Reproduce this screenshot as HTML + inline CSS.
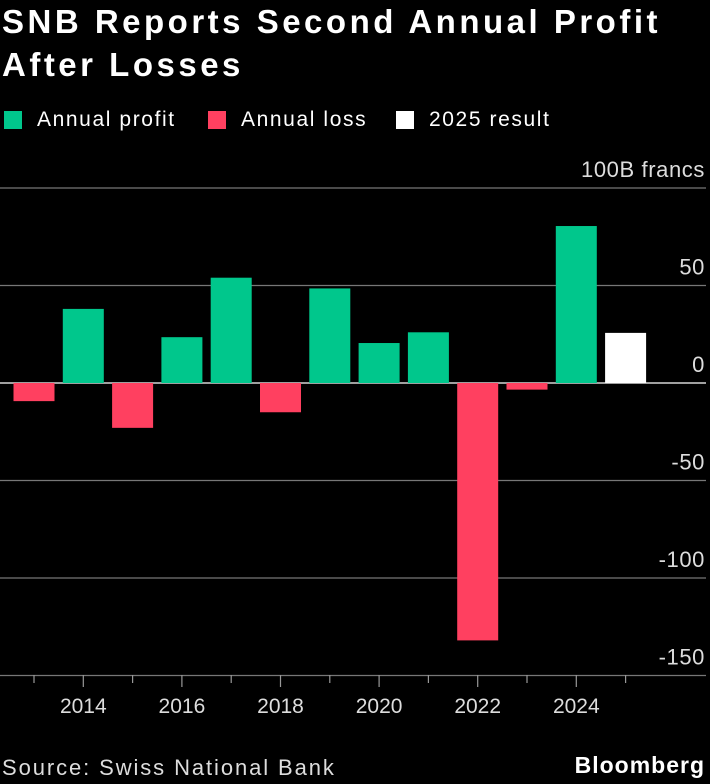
<!DOCTYPE html>
<html><head><meta charset="utf-8"><style>
body{margin:0;background:#000;width:710px;height:784px;overflow:hidden;font-family:"Liberation Sans",sans-serif;color:#fff}
#title{position:absolute;left:2px;top:0;font-size:33px;font-weight:bold;line-height:43px;letter-spacing:3.5px}
.leg{position:absolute;top:108px;font-size:21px;display:flex;align-items:center;letter-spacing:1.6px}
.sw{width:18px;height:18px;margin-right:15px}
#src{position:absolute;left:2px;top:755px;font-size:22px;color:#ddd;letter-spacing:1.9px}
#bb{position:absolute;right:5px;top:752px;font-size:23px;font-weight:bold;letter-spacing:1px}
svg{position:absolute;left:0;top:0}
</style></head><body>
<div id="title">SNB Reports Second Annual Profit<br>After Losses</div>
<div class="leg" style="left:4px"><div class="sw" style="background:#00c78c"></div>Annual profit</div>
<div class="leg" style="left:208px"><div class="sw" style="background:#ff4060"></div>Annual loss</div>
<div class="leg" style="left:396px"><div class="sw" style="background:#fff"></div>2025 result</div>
<svg id="chart" width="710" height="784"></svg>
<div id="src">Source: Swiss National Bank</div>
<div id="bb">Bloomberg</div>
<script>
const years=[2013,2014,2015,2016,2017,2018,2019,2020,2021,2022,2023,2024,2025];
const values=[-9.3,38,-23,23.5,54,-15,48.5,20.5,26,-132,-3.4,80.5,25.7];
const yTicks=[100,50,0,-50,-100,-150];
const yTickLabels=["100B francs","50","0","-50","-100","-150"];
const xLabels=[2014,2016,2018,2020,2022,2024];
const svg=document.getElementById('chart');
const NS='http://www.w3.org/2000/svg';
const y=v=>383-v*1.95;
const x=yr=>34+(yr-2013)*49.3;
function mk(t,a){const e=document.createElementNS(NS,t);for(const k in a)e.setAttribute(k,a[k]);svg.appendChild(e);return e;}
yTicks.forEach((t,i)=>{
 const l=mk('line',{x1:0,x2:706,y1:y(t),y2:y(t),stroke:t===0?'#fff':'#777','stroke-width':1.2});
 
 
 const tx=mk('text',{x:705,y:y(t)-11,'text-anchor':'end','font-size':22,fill:'#ddd','font-family':'Liberation Sans','letter-spacing':'0.6'});
 tx.textContent=yTickLabels[i];
 
 
});
years.forEach((yr,i)=>{
 const v=values[i];
 const col=yr===2025?'#fff':(v>=0?'#00c78c':'#ff4060');
 const r=mk('rect',{x:x(yr)-20.5,width:41,y:Math.min(y(v),y(0)),height:Math.abs(y(v)-y(0)),fill:col});
 
 
 const tk=mk('line',{x1:x(yr),x2:x(yr),y1:675,y2:xLabels.includes(yr)?687:683,stroke:'#999','stroke-width':1.2});
 
 
});
xLabels.forEach(yr=>{
 const t=mk('text',{x:x(yr),y:713,'text-anchor':'middle','font-size':21,fill:'#ddd','font-family':'Liberation Sans'});
 t.textContent=yr;
 
 
});
</script>
</body></html>
